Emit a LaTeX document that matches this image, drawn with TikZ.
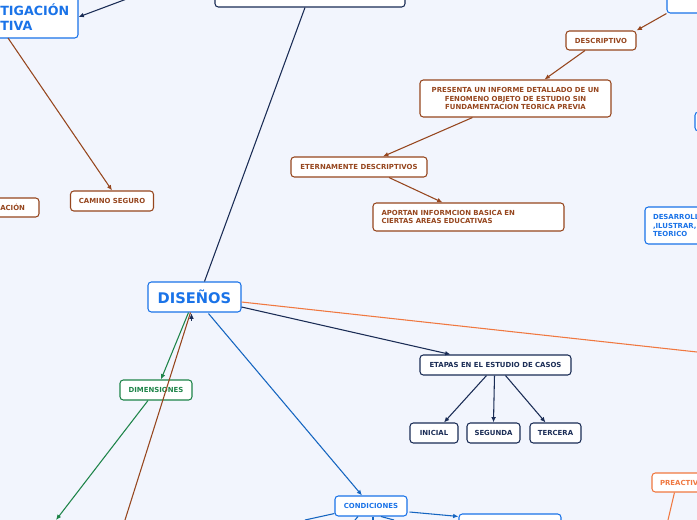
\documentclass[tikz,border=0pt]{standalone}
\usepackage{fontspec}
\setmainfont{DejaVu Sans}
\usetikzlibrary{arrows.meta,calc}
\definecolor{bg}{HTML}{F2F5FD}
\definecolor{navy}{HTML}{1A2C55}
\definecolor{brn}{HTML}{96461E}
\definecolor{blu}{HTML}{1565C0}
\definecolor{bluT}{HTML}{1A73E8}
\definecolor{grn}{HTML}{1E8449}
\definecolor{org}{HTML}{F07840}
\tikzset{
  x=0.75pt,y=-0.75pt,
  box/.style={draw,rounded corners=2.5pt,fill=white,line width=0.8pt,inner sep=0pt,font=\fontsize{5.2}{6.4}\selectfont\bfseries,align=center},
  bbox/.style={box,draw=brn,text=brn},
  nbox/.style={box,draw=navy,text=navy},
  ubox/.style={box,draw=bluT,text=bluT},
  gbox/.style={box,draw=grn,text=grn},
  obox/.style={box,draw=org,text=org},
  con/.style={line width=0.8pt,-{Latex[length=4pt,width=3.5pt]}},
  pl/.style={line width=0.8pt}
}
\begin{document}
\begin{tikzpicture}
\useasboundingbox (0,0) rectangle (697,520);
\fill[bg] (0,0) rectangle (697,520);
% nodes
\node[nbox,minimum width=190*0.75pt,minimum height=30*0.75pt] (top) at (310,-8) {};
\node[ubox,minimum width=160*0.75pt,minimum height=42*0.75pt,font=\fontsize{9.5}{11.5}\selectfont\bfseries,align=left,text width=110*0.75pt] (inv) at (-2,17) {\hspace*{43pt}TIGACIÓN\\\hspace*{43pt}TIVA};
\node[bbox,minimum width=83*0.75pt,minimum height=20*0.75pt] (cam) at (112,201) {CAMINO SEGURO};
\node[bbox,minimum width=80*0.75pt,minimum height=19*0.75pt,align=right,text width=52*0.75pt] (zac) at (-1,207.5) {ZACIÓN};
\node[ubox,minimum width=60*0.75pt,minimum height=28*0.75pt] (tr) at (697,-1) {};
\node[bbox,minimum width=70*0.75pt,minimum height=19*0.75pt] (desc) at (601,40.5) {DESCRIPTIVO};
\node[bbox,minimum width=191*0.75pt,minimum height=37*0.75pt] (pres) at (515.5,98.5) {PRESENTA UN INFORME DETALLADO DE UN\\FENOMENO OBJETO DE ESTUDIO SIN\\FUNDAMENTACION TEORICA PREVIA};
\node[bbox,minimum width=136*0.75pt,minimum height=20*0.75pt] (eter) at (359,167) {ETERNAMENTE DESCRIPTIVOS};
\node[bbox,minimum width=191*0.75pt,minimum height=28*0.75pt,align=left,text width=174*0.75pt] (apor) at (468.5,217) {APORTAN INFORMCION BASICA EN\\CIERTAS AREAS EDUCATIVAS};
\node[ubox,minimum width=90*0.75pt,minimum height=37*0.75pt,align=left,text width=74*0.75pt] (desa) at (690,225.5) {DESARROLLAR\\,ILUSTRAR,\\TEORICO};
\node[ubox,minimum width=20*0.75pt,minimum height=19*0.75pt] (sm) at (705,121.5) {};
\node[ubox,minimum width=93*0.75pt,minimum height=30*0.75pt,font=\fontsize{11}{13}\selectfont\bfseries] (dis) at (194.5,297) {DISEÑOS};
\node[nbox,minimum width=151*0.75pt,minimum height=20*0.75pt] (eta) at (495.5,365) {ETAPAS EN EL ESTUDIO DE CASOS};
\node[nbox,minimum width=48*0.75pt,minimum height=20*0.75pt] (ini) at (434,433) {INICIAL};
\node[nbox,minimum width=53*0.75pt,minimum height=20*0.75pt] (seg) at (493.5,433) {SEGUNDA};
\node[nbox,minimum width=51*0.75pt,minimum height=20*0.75pt] (ter) at (555.5,433) {TERCERA};
\node[gbox,minimum width=72*0.75pt,minimum height=20*0.75pt] (dim) at (156,390) {DIMENSIONES};
\node[ubox,minimum width=72*0.75pt,minimum height=20*0.75pt] (cond) at (371,506) {CONDICIONES};
\node[ubox,minimum width=102*0.75pt,minimum height=20*0.75pt] (cb) at (510,524) {};
\node[obox,minimum width=80*0.75pt,minimum height=19*0.75pt,align=left,text width=64*0.75pt] (pre) at (692,482.5) {PREACTIVA};
\coordinate (c1) at (140,-6);
\coordinate (c2) at (697,352);
\coordinate (c3) at (56,520);
\coordinate (c4) at (125,520);
\coordinate (c5) at (305,520);
\coordinate (c6) at (668,520);
\coordinate (c7) at (355,520);
\coordinate (c8) at (373,520);
\coordinate (c9) at (394,520);
% connectors
\draw[pl,navy] ($(top.south)+(-5,0)$) -- ($(dis.north)+(10,0)$);
\draw[con,navy] (c1) -- (inv.east);
\draw[con,brn] (8,38) -- (cam.north);
\draw[con,brn] (tr.south west) -- (desc.north east);
\draw[con,brn] ($(desc.south)+(-16,0)$) -- ($(pres.north)+(29,0)$);
\draw[con,brn] ($(pres.south)+(-43,0)$) -- ($(eter.north)+(24,0)$);
\draw[con,brn] ($(eter.south)+(30,0)$) -- ($(apor.north)+(-26,0)$);
\draw[pl,org] ($(dis.east)+(0,5)$) -- (c2);
\draw[con,navy] ($(dis.east)+(0,10)$) -- ($(eta.north)+(-45,0)$);
\draw[con,navy] ($(eta.south)+(-9,0)$) -- ($(ini.north)+(10,0)$);
\draw[con,navy] ($(eta.south)+(-1,0)$) -- (seg.north);
\draw[con,navy] ($(eta.south)+(10,0)$) -- ($(ter.north)+(-10,0)$);
\draw[con,grn] ($(dis.south)+(-6,0)$) -- ($(dim.north)+(5,0)$);
\draw[con,grn] ($(dim.south)+(-8,0)$) -- (c3);
\draw[pl,brn] (c4) -- ($(dis.south)+(-4,0)$);
\draw[con,navy,line width=0.5pt] ($(dis.south)+(-3,8)$) -- ($(dis.south)+(-3,1)$);
\draw[con,blu] ($(dis.south)+(14,1)$) -- ($(cond.north)+(-9,0)$);
\draw[con,blu] ($(cond.east)+(2,6)$) -- ($(cb.north west)+(0,3)$);
\draw[pl,blu] ($(cond.south west)+(0,-3)$) -- (c5);
\draw[pl,blu] ($(cond.south)+(-13,0)$) -- (c7);
\draw[pl,blu] ($(cond.south)+(2,0)$) -- (c8);
\draw[pl,blu] ($(cond.south)+(10,0)$) -- (c9);
\draw[pl,org] ($(pre.south west)+(23,0)$) -- (c6);
\end{tikzpicture}
\end{document}
